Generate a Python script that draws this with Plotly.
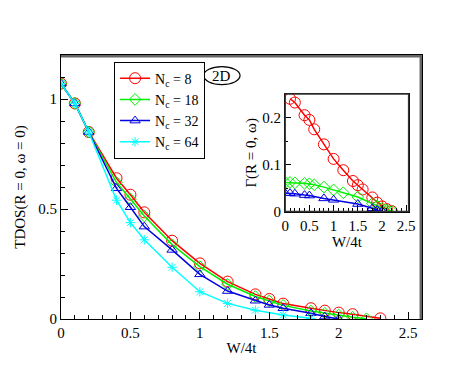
import plotly.graph_objects as go

# ---- main panel data: TDOS(R=0, w=0) vs W/4t ----
x_n8 = [0, 0.1, 0.2, 0.4, 0.5, 0.6, 0.8, 1.0, 1.2, 1.4, 1.5, 1.6, 1.8, 1.9, 2.0, 2.1, 2.3]
y_n8 = [1.07, 0.98, 0.85, 0.64, 0.565, 0.485, 0.356, 0.253, 0.17, 0.112, 0.091, 0.07, 0.049, 0.038, 0.029, 0.022, 0.003]
x_n18 = [0, 0.1, 0.2, 0.4, 0.5, 0.6, 0.8, 1.0, 1.2, 1.4, 1.5, 1.6, 1.8, 1.9, 2.0, 2.1, 2.2]
y_n18 = [1.07, 0.98, 0.85, 0.62, 0.545, 0.468, 0.338, 0.238, 0.158, 0.102, 0.082, 0.062, 0.036, 0.026, 0.018, 0.008, 0.001]
x_n32 = [0, 0.1, 0.2, 0.4, 0.5, 0.6, 0.8, 1.0, 1.2, 1.4, 1.5, 1.6, 1.8, 1.9, 2.0]
y_n32 = [1.07, 0.98, 0.85, 0.594, 0.508, 0.42, 0.314, 0.203, 0.127, 0.083, 0.064, 0.049, 0.026, 0.011, 0.0]
x_n64 = [0, 0.1, 0.2, 0.4, 0.5, 0.6, 0.8, 1.0, 1.2, 1.4, 1.6, 1.8]
y_n64 = [1.07, 0.98, 0.85, 0.54, 0.438, 0.36, 0.235, 0.124, 0.071, 0.04, 0.018, 0.003]

# ---- inset data: Gamma(R=0, w) vs W/4t ----
xi_n8 = [0.1, 0.2, 0.4, 0.5, 0.6, 0.8, 1.0, 1.2, 1.4, 1.5, 1.6, 1.8, 1.9, 2.0, 2.1, 2.2]
yi_n8 = [0.240, 0.232, 0.205, 0.195, 0.175, 0.143, 0.112, 0.088, 0.065, 0.056, 0.047, 0.030, 0.019, 0.011, 0.005, 0.001]
xi_n18 = [0, 0.1, 0.2, 0.4, 0.5, 0.6, 0.8, 1.0, 1.2, 1.5, 1.8, 1.9, 2.0, 2.1, 2.2]
yi_n18 = [0.062, 0.062, 0.061, 0.060, 0.059, 0.057, 0.052, 0.046, 0.040, 0.031, 0.017, 0.012, 0.007, 0.003, 0.001]
xi_n32 = [0, 0.1, 0.2, 0.4, 0.5, 0.8, 1.0, 1.5, 1.8, 1.9, 2.0]
yi_n32 = [0.039, 0.039, 0.038, 0.035, 0.034, 0.028, 0.025, 0.016, 0.007, 0.003, 0.001]

labels = ["N<sub>c</sub> = 8", "N<sub>c</sub> = 18", "N<sub>c</sub> = 32", "N<sub>c</sub> = 64"]
colors = ["#ff0000", "#00f000", "#0000e0", "#00ffff"]
symbols = ["circle-open", "diamond-open", "triangle-up-open", "asterisk-open"]
sizes = [11, 9, 9, 8]

FONT = "Liberation Serif"

fig = go.Figure()

main_sets = [(x_n8, y_n8), (x_n18, y_n18), (x_n32, y_n32), (x_n64, y_n64)]
for (xs, ys), lab, c, s, sz in zip(main_sets, labels, colors, symbols, sizes):
    fig.add_trace(go.Scatter(
        x=xs, y=ys, mode="lines+markers", name=lab,
        line=dict(color=c, width=1.5),
        marker=dict(symbol=s, size=sz, color=c, line=dict(color=c, width=1)),
        xaxis="x", yaxis="y"))

inset_sets = [(xi_n8, yi_n8), (xi_n18, yi_n18), (xi_n32, yi_n32)]
for (xs, ys), lab, c, s, sz in zip(inset_sets, labels, colors, symbols, sizes):
    fig.add_trace(go.Scatter(
        x=xs, y=ys, mode="lines+markers", name=lab, showlegend=False,
        line=dict(color=c, width=1.5),
        marker=dict(symbol=s, size=sz, color=c, line=dict(color=c, width=1)),
        xaxis="x2", yaxis="y2"))

axis_common = dict(showgrid=False, zeroline=False, showline=True, linecolor="black",
                   linewidth=1.2, mirror=True, ticks="inside", tickcolor="black",
                   tickfont=dict(family=FONT, size=15, color="black"))

frame = dict(line=dict(color="#333333", width=1.5), fillcolor="rgba(0,0,0,0)", layer="above")
edge = dict(xref="paper", yref="paper", type="rect", line=dict(width=0),
            fillcolor="#666666", layer="above")

fig.update_layout(
    width=474, height=366,
    margin=dict(l=47, r=60, t=47, b=55),
    paper_bgcolor="white", plot_bgcolor="white",
    font=dict(family=FONT, size=15, color="black"),
    xaxis=dict(range=[0, 2.6], dtick=0.5, ticklen=7,
               minor=dict(dtick=0.1, ticklen=4, ticks="inside", tickcolor="black"),
               title=dict(text="W/4t", font=dict(family=FONT, size=15), standoff=2),
               **axis_common),
    yaxis=dict(range=[0, 1.2], dtick=0.5, ticklen=7,
               minor=dict(dtick=0.1, ticklen=4, ticks="inside", tickcolor="black"),
               title=dict(text="TDOS(R = 0, ω = 0)", font=dict(family=FONT, size=15), standoff=8),
               **axis_common),
    xaxis2=dict(domain=[0.621, 0.963], anchor="y2", range=[0, 2.55], dtick=0.5, ticklen=6,
                minor=dict(dtick=0.1, ticklen=3, ticks="inside", tickcolor="black"),
                title=dict(text="W/4t", font=dict(family=FONT, size=15), standoff=0),
                **axis_common),
    yaxis2=dict(domain=[0.407, 0.852], anchor="x2", range=[0, 0.25], dtick=0.1, ticklen=6,
                minor=dict(dtick=0.05, ticklen=3, ticks="inside", tickcolor="black"),
                title=dict(text="Γ(R = 0, ω)", font=dict(family=FONT, size=15), standoff=2),
                **axis_common),
    legend=dict(x=0.147, y=0.975, xanchor="left", yanchor="top",
                bordercolor="black", borderwidth=1, bgcolor="white",
                font=dict(family=FONT, size=14, color="black"),
                itemwidth=30, tracegroupgap=0),
    shapes=[
        dict(x0=0, x1=1, y0=0.9905, y1=1.0, **edge),
        dict(x0=0.9932, x1=1.0, y0=0, y1=1, **edge),
        dict(type="rect", xref="x2 domain", yref="y2 domain", x0=0, x1=1, y0=0, y1=1, **frame),
        dict(type="circle", xref="paper", yref="paper",
             x0=0.395, x1=0.496, y0=0.888, y1=0.956,
             line=dict(color="black", width=1.2)),
    ],
    annotations=[dict(text="2D", xref="paper", yref="paper", x=0.4455, y=0.922,
                      xanchor="center", yanchor="middle",
                      showarrow=False, font=dict(family=FONT, size=15, color="black"))],
)

fig.write_html("out.html")
